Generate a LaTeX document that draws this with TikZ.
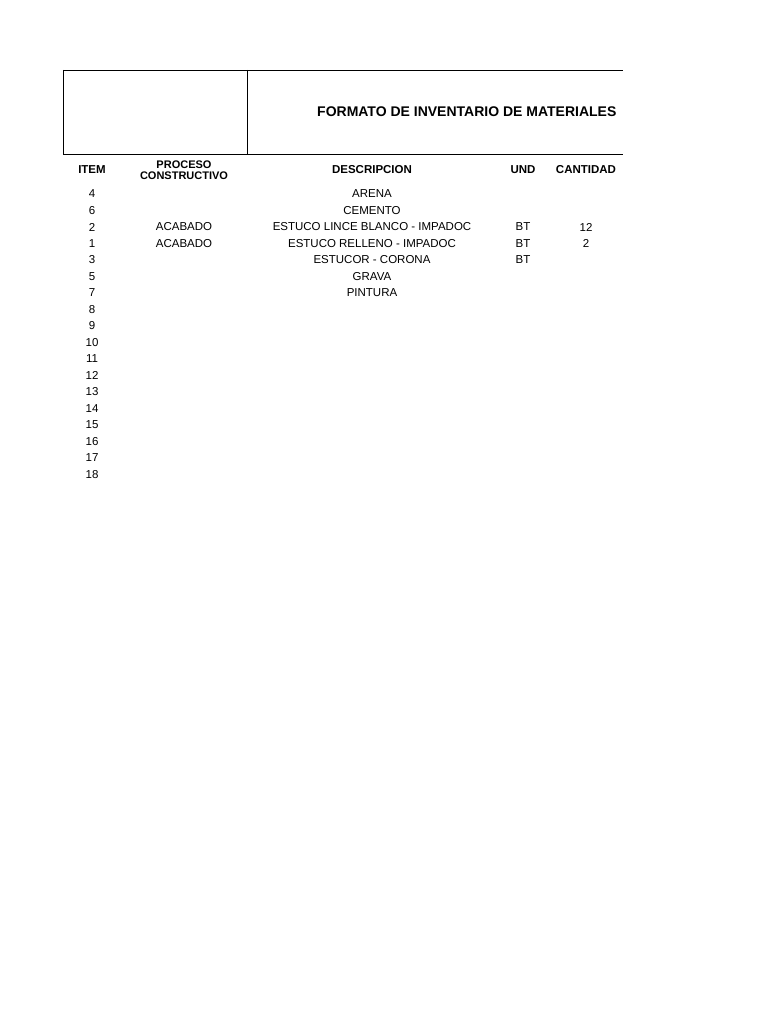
\documentclass[tikz,border=0pt]{standalone}
\usepackage{fontspec}
\setmainfont{Liberation Sans}
\begin{document}
\begin{tikzpicture}[x=1pt,y=-1pt,
  cell/.style={inner sep=0pt,font=\fontsize{11.5}{12}\selectfont},
  hd/.style={inner sep=0pt,font=\fontsize{11.5}{12}\selectfont\bfseries,align=center}]
\useasboundingbox (0,0) rectangle (768,1024);
\draw[line width=0.8pt] (63,70) -- (623,70);
\draw[line width=0.8pt] (63,154) -- (623,154);
\draw[line width=0.8pt] (63,70) -- (63,154);
\draw[line width=0.8pt] (247,70) -- (247,154);
\begin{scope}
\clip (248,71) rectangle (623,153);
\node[anchor=west,inner sep=0pt,font=\fontsize{14}{16}\selectfont\bfseries] (title) at (317,112) {FORMATO DE INVENTARIO DE MATERIALES};
\end{scope}
\node[hd] (hitem) at (92,170) {ITEM};
\node[hd,font=\fontsize{11}{11}\selectfont\bfseries] (hproc) at (184,170) {PROCESO\\CONSTRUCTIVO};
\node[hd] (hdesc) at (372,170) {DESCRIPCION};
\node[hd] (hund) at (523,170) {UND};
\node[hd] (hcant) at (586,170) {CANTIDAD};
\foreach \n/\it/\pr/\de/\un/\ca in {
 0/4///\ /,1/6//CEMENTO//,2/2/ACABADO/ESTUCO LINCE BLANCO - IMPADOC/BT/12,
 3/1/ACABADO/ESTUCO RELLENO - IMPADOC/BT/2,4/3//ESTUCOR - CORONA/BT/,
 5/5//GRAVA//,6/7//PINTURA//,7/8///,8/9///,9/10///,10/11///,11/12///,
 12/13///,13/14///,14/15///,15/16///,16/17///,17/18///}{
 \pgfmathsetmacro\yy{194+16.5*\n}
 \node[cell] (i\n) at (92,\yy) {\it};
 \node[cell] (p\n) at (184,\yy) {\pr};
 \node[cell] (d\n) at (372,\yy) {\de};
 \node[cell] (u\n) at (523,\yy) {\un};
 \node[cell] (c\n) at (586,\yy) {\ca};
}
\node[cell] (arena) at (372,194) {ARENA};
\end{tikzpicture}
\end{document}
